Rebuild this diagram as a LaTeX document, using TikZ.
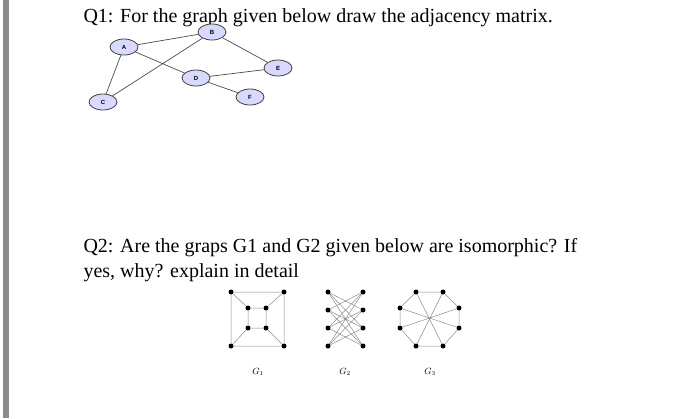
\documentclass[tikz,border=0pt]{standalone}
\usepackage{fontspec}
\setmainfont{Liberation Serif}
\setsansfont{Liberation Sans}
\usetikzlibrary{shapes.geometric}
\begin{document}
\begin{tikzpicture}[x=1pt,y=-1pt,
  gn/.style={ellipse,draw=black!75,fill=blue!15,line width=0.8pt,minimum width=28pt,minimum height=16pt,inner sep=0pt,font=\sffamily\bfseries\fontsize{6}{6}\selectfont},
  ge/.style={draw=black!70,line width=0.7pt},
  dot/.style={circle,fill=black,inner sep=0pt,minimum size=5pt},
  se/.style={draw=black!45,line width=0.5pt},
  q/.style={anchor=base west,font=\fontsize{20}{22}\selectfont,align=left}]
\useasboundingbox (0,0) rectangle (700,418);
\fill[black!45] (3,0) rectangle (9,418);
\node[q] (q1) at (80,22) {Q1: For the graph given below draw the adjacency matrix.};
\node[gn] (A) at (124,47) {A};
\node[gn] (B) at (212,32) {B};
\node[gn] (C) at (103,102) {C};
\node[gn] (D) at (196,78) {D};
\node[gn] (E) at (278,68) {E};
\node[gn] (F) at (250,97) {F};
\draw[ge] (A)--(B) (A)--(C) (A)--(D) (B)--(C) (B)--(E) (D)--(E) (D)--(F);
\node[q] (q2a) at (80,252) {Q2: Are the graps G1 and G2 given below are isomorphic? If};
\node[q] (q2b) at (80,277) {yes, why? explain in detail};
% G1
\foreach \n/\x/\y in {o1/231/292,o2/284/292,o3/284/346,o4/231/346,i1/248/308,i2/266/308,i3/266/328,i4/248/328}
  \node[dot] (\n) at (\x,\y) {};
\draw[se] (o1)--(o2)--(o3)--(o4)--(o1) (i1)--(i2)--(i3)--(i4)--(i1)
  (o1)--(i1) (o2)--(i2) (o3)--(i3) (o4)--(i4);
% G2
\foreach \i/\y in {1/292,2/310,3/328,4/346}{
  \node[dot] (l\i) at (328,\y) {};
  \node[dot] (r\i) at (363,\y) {};}
\foreach \i in {1,...,4}\foreach \j in {1,...,4}{
  \ifnum\i=\j\else\draw[se] (l\i)--(r\j);\fi}
% G3
\foreach \n/\x/\y in {1/416/292,2/443/292,3/459/308,4/459/328,5/443/346,6/416/346,7/400/328,8/400/308}
  \node[dot] (h\n) at (\x,\y) {};
\draw[se] (h1)--(h2)--(h3)--(h4)--(h5)--(h6)--(h7)--(h8)--(h1)
  (h1)--(h5) (h2)--(h6) (h3)--(h7) (h4)--(h8);
\node[font=\itshape\fontsize{9}{9}\selectfont] (g1) at (258,372) {$G_1$};
\node[font=\itshape\fontsize{9}{9}\selectfont] (g2) at (345,372) {$G_2$};
\node[font=\itshape\fontsize{9}{9}\selectfont] (g3) at (430,372) {$G_3$};
\end{tikzpicture}
\end{document}
